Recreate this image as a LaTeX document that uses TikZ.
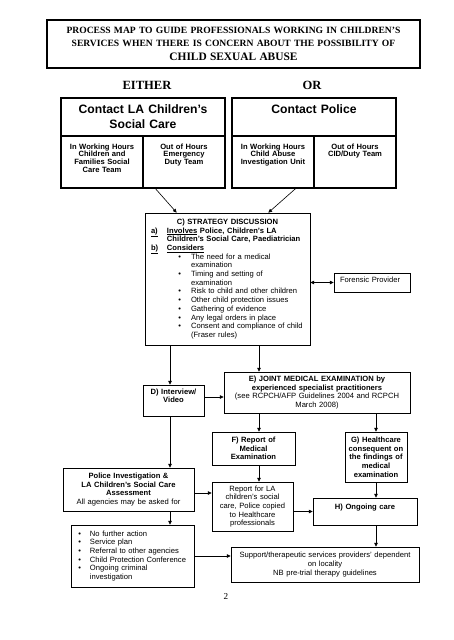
\documentclass[tikz,border=0pt]{standalone}
\usepackage{fontspec}
\setmainfont{Liberation Serif}
\setsansfont{Liberation Sans}
\usetikzlibrary{arrows.meta,calc}

% one bullet line: bullet at #1, text at #2
\newcommand\bul[3]{\hangindent=#2\hangafter=1\noindent\hspace*{#1}\makebox[\dimexpr#2-#1\relax][l]{\textbullet}#3\par}

\tikzset{
  >={Triangle[length=5pt,width=4.5pt]},
  proc/.style 2 args={draw, line width=0.8pt, inner sep=0pt, align=center,
    minimum width=#1*1.314pt, minimum height=#2*1.314pt, text width=#1*1.314pt,
    font=\sffamily\fontsize{10}{11.4}\selectfont},
  headcell/.style={draw, line width=1.6pt, inner sep=0pt, align=center,
    font=\sffamily\bfseries\fontsize{10}{10.2}\selectfont},
  link/.style={->, line width=0.8pt},
}

\begin{document}
\begin{tikzpicture}[x=1.314pt, y=-1.314pt]
\useasboundingbox (0,0) rectangle (453,640);

\node[headcell, font=\rmfamily\bfseries\fontsize{12.6}{17}\selectfont, text width=490.1pt,
  minimum width=490.1pt, minimum height=63.1pt] (title) at (233.5,44)
  {PROCESS MAP TO GUIDE PROFESSIONALS WORKING IN CHILDREN’S\\
   SERVICES WHEN THERE IS CONCERN ABOUT THE POSSIBILITY OF\\[1.4pt]
   {\fontsize{15}{18}\selectfont CHILD SEXUAL ABUSE}};
\node[font=\rmfamily\bfseries\fontsize{16.5}{19}\selectfont] (either) at (147,85) {EITHER};
\node[font=\rmfamily\bfseries\fontsize{16.5}{19}\selectfont] (or) at (312,85) {OR};

% contact boxes
\node[headcell, font=\sffamily\bfseries\fontsize{16}{18.4}\selectfont, text width=215.5pt,
  text height=21pt, text depth=28.9pt] (laHead) at (143,117) {Contact LA Children’s\\Social Care};
\node[headcell, text width=107.7pt, text height=17.1pt, text depth=51.2pt] (laWork) at (102,162)
  {In Working Hours\\Children and\\Families Social\\Care Team};
\node[headcell, text width=107.7pt, text height=17.1pt, text depth=51.2pt] (laOut) at (184,162)
  {Out of Hours\\Emergency\\Duty Team};
\node[headcell, font=\sffamily\bfseries\fontsize{16}{18.4}\selectfont, text width=215.5pt,
  text height=21pt, text depth=28.9pt] (polHead) at (314,117) {Contact Police};
\node[headcell, text width=107.7pt, text height=17.1pt, text depth=51.2pt] (polWork) at (273,162)
  {In Working Hours\\Child Abuse\\Investigation Unit};
\node[headcell, text width=107.7pt, text height=17.1pt, text depth=51.2pt] (polOut) at (355,162)
  {Out of Hours\\CID/Duty Team};

\node[proc={165}{132}, text width=201pt, align=left] (strat) at (227.5,279) {%
  {\centering\textbf{C) STRATEGY DISCUSSION}\par}
  \hangindent=21pt\hangafter=1\makebox[21pt][l]{\textbf{\underline{a)}}}%
  \textbf{\underline{Involves} Police, Children’s LA\newline Children’s Social Care, Paediatrician}\par
  \makebox[21pt][l]{\textbf{\underline{b)}}}\textbf{\underline{Considers}}\par
  \bul{36pt}{52.6pt}{The need for a medical\newline examination}
  \bul{36pt}{52.6pt}{Timing and setting of\newline examination}
  \bul{36pt}{52.6pt}{Risk to child and other children}
  \bul{36pt}{52.6pt}{Other child protection issues}
  \bul{36pt}{52.6pt}{Gathering of evidence}
  \bul{36pt}{52.6pt}{Any legal orders in place}
  \bul{36pt}{52.6pt}{Consent and compliance of child\newline (Fraser rules)}};
\node[proc={76}{19}, text width=84pt, align=left, text height=13.1pt, text depth=11.9pt]
  (forensic) at (372,282.5) {Forensic Provider};

\node[proc={61}{31}, text height=11.8pt, text depth=28.9pt] (D) at (173.5,400.5)
  {\textbf{D) Interview/\\Video}};
\node[proc={186}{41}] (E) at (317,392.5)
  {\textbf{E) JOINT MEDICAL EXAMINATION by}\\\textbf{experienced specialist practitioners}\\
   (see RCPCH/AFP Guidelines 2004 and RCPCH\\March 2008)};
\node[proc={83}{33}] (F) at (253.5,448.5) {\textbf{F) Report of\\Medical\\Examination}};
\node[proc={62}{50}] (G) at (376,457)
  {\textbf{G) Healthcare\\consequent on\\the findings of\\medical\\examination}};
\node[proc={131}{43}] (police) at (128.5,489.5)
  {\textbf{Police Investigation \&\\LA Children’s Social Care\\Assessment}\\All agencies may be asked for};
\node[proc={81}{49}] (report) at (252.5,506.5)
  {Report for LA\\children’s social\\care, Police copied\\to Healthcare\\professionals};
\node[proc={104}{27}, text height=14.5pt, text depth=21pt] (H) at (365,511.5) {\textbf{H) Ongoing care}};
\node[proc={123}{62}, text width=148.5pt, align=left] (outcomes) at (132.5,556) {%
  \bul{3pt}{18.4pt}{No further action}
  \bul{3pt}{18.4pt}{Service plan}
  \bul{3pt}{18.4pt}{Referral to other agencies}
  \bul{3pt}{18.4pt}{Child Protection Conference}
  \bul{3pt}{18.4pt}{Ongoing criminal\newline investigation}};
\node[proc={188}{35}] (support) at (325,564.5)
  {Support/therapeutic services providers’ dependent\\on locality\\NB pre-trial therapy guidelines};
\node[font=\rmfamily\fontsize{12}{14}\selectfont] (pageno) at (226,596) {2};

% connectors
\coordinate (colA) at (170,0);
\coordinate (colB) at (259,0);
\coordinate (rowDE) at (0,397);
\coordinate (rowPR) at (0,493);
\draw[link] ($(laOut.south west)+(13,0)$) -- ($(strat.north west)+(32,0)$);
\draw[link] ($(polWork.south east)+(-19,0)$) -- ($(strat.north east)+(-42,0)$);
\draw[link, <->] (strat.east |- forensic.west) -- (forensic.west);
\draw[link] (strat.south -| colA) -- (D.north -| colA);
\draw[link] (strat.south -| colB) -- (E.north -| colB);
\draw[link] (D.east |- rowDE) -- (E.west |- rowDE);
\draw[link] (E.south -| colB) -- (F.north -| colB);
\draw[link] (E.south -| G.north) -- (G.north);
\draw[link] (D.south -| colA) -- (police.north -| colA);
\draw[link] (F.south -| colB) -- (report.north -| colB);
\draw[link] (police.east |- rowPR) -- (report.west |- rowPR);
\draw[link] (G.south) -- (G.south |- H.north);
\draw[link] (report.east |- H.west) -- (H.west);
\draw[link] (police.south -| colA) -- (outcomes.north -| colA);
\draw[link] (H.south -| G.south) -- (G.south |- support.north);
\draw[link] (outcomes.east) -- (outcomes.east -| support.west);
\end{tikzpicture}
\end{document}
